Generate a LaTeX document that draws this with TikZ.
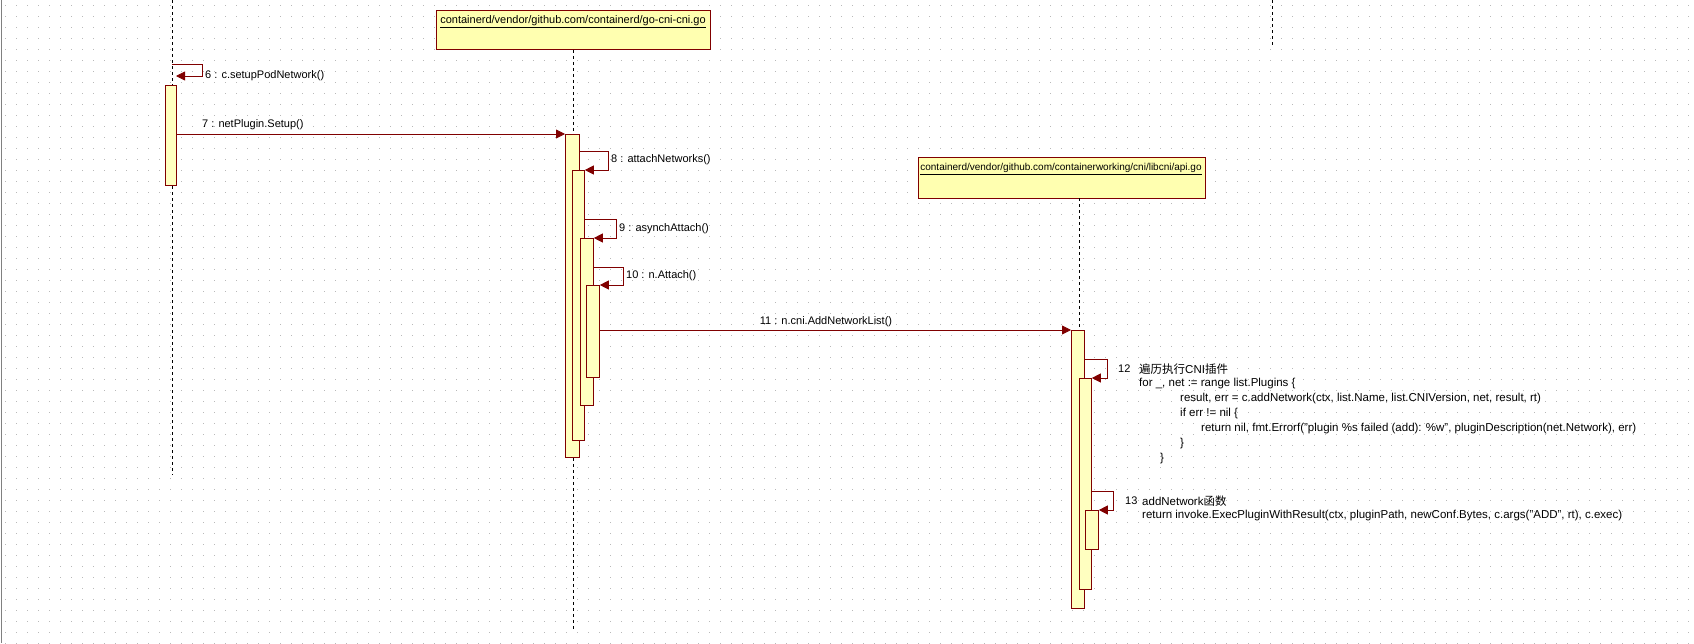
\documentclass[tikz,border=0pt]{standalone}
\usepackage{fontspec}
\setmainfont{Liberation Sans}
\newfontfamily\cjk{Noto Sans CJK SC}
\usetikzlibrary{arrows.meta}
\definecolor{dred}{HTML}{800000}
\definecolor{actfill}{HTML}{FFFFC0}
\definecolor{hdrfill}{HTML}{FFFFB0}
\begin{document}
\begin{tikzpicture}[x=1pt,y=-1pt,
  act/.style={draw=dred,fill=actfill,line width=0.8pt},
  hdr/.style={draw=dred,fill=hdrfill,line width=0.8pt},
  life/.style={dashed,dash pattern=on 3pt off 3pt,line width=0.8pt},
  msg/.style={draw=dred,line width=0.8pt,-{Triangle[length=9pt,width=9pt]}},
  lbl/.style={anchor=west,inner sep=0pt,font=\fontsize{11}{13}\selectfont},
  code/.style={anchor=west,inner sep=0pt,font=\fontsize{11.5}{13}\selectfont}]
\useasboundingbox (0,0) rectangle (1694,643);
\fill[white] (0,0) rectangle (1694,643);
\foreach \i in {0,...,153}{\foreach \j in {0,...,58}{\fill[gray!55] (\i*11+5,\j*11+5) rectangle ++(1,1);}}
\draw[gray] (1,0) -- (1,643);
% lifelines
\draw[life] (172,0) -- (172,475);
\node[hdr,minimum width=274pt,minimum height=39pt,anchor=north west,inner sep=0pt] (h2) at (436,10) {};
\node[lbl,anchor=north] (h2t) at (573,15) {\underline{containerd/vendor/github.com/containerd/go-cni-cni.go}};
\draw[life] (h2.south -| 573,0) -- (573,629);
\node[hdr,minimum width=287pt,minimum height=41pt,anchor=north west,inner sep=0pt] (h3) at (918,157) {};
\node[lbl,anchor=north,font=\fontsize{10}{12}\selectfont] (h3t) at (1061,163) {\underline{containerd/vendor/github.com/containerworking/cni/libcni/api.go}};
\draw[life] (1079,198) -- (1079,610);
\draw[life] (1272,0) -- (1272,45);
% activations
\node[act,anchor=north west,minimum width=11pt,minimum height=100pt,inner sep=0pt] (a0) at (165,85) {};
\node[act,anchor=north west,minimum width=14pt,minimum height=323pt,inner sep=0pt] (a1) at (565,134) {};
\node[act,anchor=north west,minimum width=12pt,minimum height=270pt,inner sep=0pt] (a2) at (572,170) {};
\node[act,anchor=north west,minimum width=13pt,minimum height=167pt,inner sep=0pt] (a3) at (580,238) {};
\node[act,anchor=north west,minimum width=13pt,minimum height=92pt,inner sep=0pt] (a4) at (586,285) {};
\node[act,anchor=north west,minimum width=13pt,minimum height=278pt,inner sep=0pt] (b1) at (1071,330) {};
\node[act,anchor=north west,minimum width=12pt,minimum height=211pt,inner sep=0pt] (b2) at (1079,378) {};
\node[act,anchor=north west,minimum width=13pt,minimum height=39pt,inner sep=0pt] (b3) at (1085,510) {};
% messages
\coordinate (s6) at (172,64);
\draw[msg] (s6) -- (202,64) -- (202,76) -- (176,76);
\node[lbl] (l6) at (205,76) {6 : c.setupPodNetwork()};
\draw[msg] (a0.east |- 0,134) -- (a1.north west);
\node[lbl] (l7) at (202,125) {7 : netPlugin.Setup()};
\draw[msg] (a1.east |- 0,151) -- (608,151) -- (608,170) -- (a2.north east);
\node[lbl] (l8) at (611,160) {8 : attachNetworks()};
\draw[msg] (a2.east |- 0,219) -- (616,219) -- (616,238) -- (a3.north east);
\node[lbl] (l9) at (619,229) {9 : asynchAttach()};
\draw[msg] (a3.east |- 0,267) -- (623,267) -- (623,285) -- (a4.north east);
\node[lbl] (l10) at (626,276) {10 : n.Attach()};
\draw[msg] (a4.east |- 0,330) -- (b1.north west);
\node[lbl,anchor=center] (l11) at (826,322) {11 : n.cni.AddNetworkList()};
\draw[msg] (b1.east |- 0,359) -- (1107,359) -- (1107,378) -- (b2.north east);
\node[lbl] (l12) at (1118,369) {12};
\node[code] (c1) at (1139,369) {{\cjk 遍历执行}CNI{\cjk 插件}};
\node[code] (c2) at (1139,384) {for \_, net := range list.Plugins \{};
\node[code] (c3) at (1180,399) {result, err = c.addNetwork(ctx, list.Name, list.CNIVersion, net, result, rt)};
\node[code] (c4) at (1180,414) {if err != nil \{};
\node[code] (c5) at (1201,429) {return nil, fmt.Errorf("plugin \%s failed (add): \%w", pluginDescription(net.Network), err)};
\node[code] (c6) at (1180,444) {\}};
\node[code] (c7) at (1160,459) {\}};
\draw[msg] (b2.east |- 0,491) -- (1113,491) -- (1113,510) -- (b3.north east);
\node[lbl] (l13) at (1125,501) {13};
\node[code] (d1) at (1142,501) {addNetwork{\cjk 函数}};
\node[code] (d2) at (1142,516) {return invoke.ExecPluginWithResult(ctx, pluginPath, newConf.Bytes, c.args("ADD", rt), c.exec)};
\end{tikzpicture}
\end{document}
